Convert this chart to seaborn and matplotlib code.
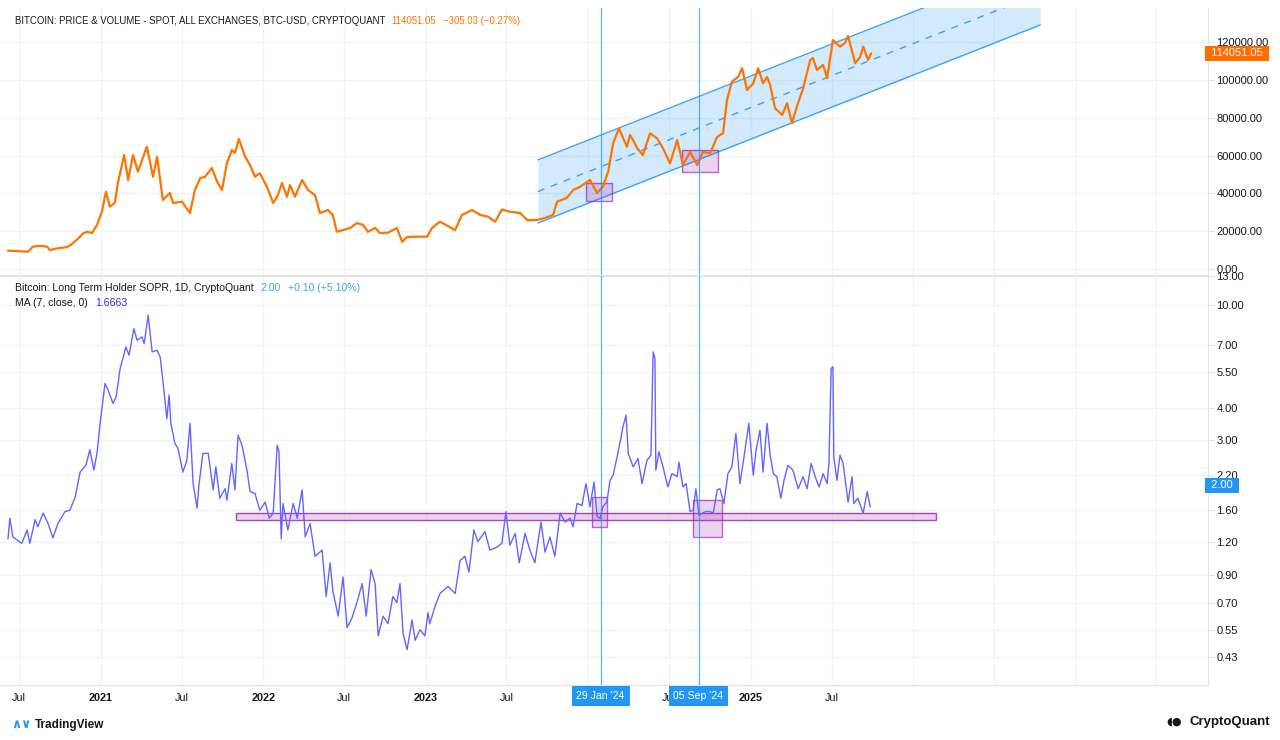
import numpy as np
import pandas as pd
import matplotlib
matplotlib.use("Agg")
import matplotlib.pyplot as plt
import matplotlib.dates as mdates
import matplotlib.transforms as mtransforms
from matplotlib.patches import Rectangle
import seaborn as sns

# ---------------- data ----------------
EPOCH = "2021-01-01"  # day offsets below are days since this date

price_days = [-209, -164, -153, -137, -121, -115, -97, -76, -65, -47, -40, -31, -20, -9,
              2, 11, 20, 31, 38, 52, 61, 72, 83, 94, 103, 117, 126, 137, 139,
              155, 162, 182, 200, 211, 223, 234, 249, 261, 272, 283, 294, 301,
              310, 324, 335, 346, 357, 373, 387, 396, 407, 418, 425, 436, 452,
              465, 481, 492, 510, 521, 530, 544, 560, 575, 589, 600, 616, 627,
              645, 665, 677, 688, 710, 733, 744, 755, 762, 796, 811, 834, 852,
              870, 886, 901, 919, 942, 958, 980, 998, 1016, 1025, 1047, 1061,
              1077, 1099, 1115, 1128, 1140, 1151, 1164, 1182, 1189, 1196, 1205, 1218,
              1234, 1250, 1263, 1279, 1295, 1308, 1324, 1340, 1353, 1369, 1385,
              1398, 1407, 1418, 1432, 1441, 1452, 1466, 1477, 1488, 1497, 1504, 1515, 1531,
              1542, 1553, 1564, 1578, 1594, 1600, 1609, 1623, 1632, 1645, 1661, 1672, 1679,
              1695, 1706, 1713, 1724, 1731]
price_values = [9700, 9150, 11800, 12300, 11800, 10000, 10950, 11600, 13200, 17100, 18900,
                19700, 19000, 23300,
                30300, 40900, 33000, 34900, 45500, 60300, 47100, 60300, 51500, 58700,
                64700, 48800, 59400, 40200, 36500, 40200, 34900, 35600, 29600, 41800,
                48100, 48800, 53400, 46200, 41800, 56100, 62900, 61400, 68800, 59400,
                55000, 48800, 50600, 43500, 34900, 38200, 45500, 38200, 44400, 38200,
                47100, 41800, 39100, 29600, 31200, 28600, 19700, 20600, 21700, 24300,
                23300, 19700, 21700, 19000, 19200, 21700, 14400, 16900, 17100, 17100,
                21700, 23800, 25000, 20600, 28600, 31200, 28600, 27700, 25000, 31500,
                30300, 29600, 25900, 25900, 27000, 28600, 35600, 37600, 41800, 43500,
                47100, 40200, 43500, 51500, 66500, 74400, 64700, 70900, 68200, 63900, 60300,
                71800, 69100, 63900, 55900, 68200, 55000, 62000, 55000, 62000, 61200,
                70000, 71800, 89400, 99100, 101600, 106200, 94700, 98200, 106200, 98200,
                101600, 97300, 85000, 81500, 87700, 77100, 85900, 95600, 110600, 111600,
                105300, 107900, 100900, 121100, 117600, 119600, 123300, 108800, 112100,
                117600, 110600, 114051.05]
price_last = 114051.05

sopr_days = [-209, -205, -198, -178, -166, -160, -148, -142, -130, -119, -108, -97,
             -81, -70, -58, -47, -34, -25, -16, -9, -2, 9, 16, 27, 34, 43, 56, 63,
             74, 81, 92, 97, 106, 115, 126, 133, 139, 148, 153, 157, 166, 173, 184,
             193, 200, 207, 216, 220, 229, 241, 252, 258, 267, 279, 283, 294, 301,
             308, 317, 328, 335, 346, 357, 369, 378, 387, 396, 400, 405, 409, 420,
             432, 441, 452, 459, 470, 481, 497, 506, 515, 521, 533, 544, 553, 564,
             575, 587, 596, 607, 616, 623, 634, 645, 656, 665, 672, 679, 688, 699,
             706, 717, 728, 735, 739, 751, 762, 780, 796, 807, 818, 827, 838, 847,
             863, 874, 890, 901, 910, 919, 931, 940, 953, 964, 975, 989, 998, 1009,
             1020, 1032, 1043, 1054, 1061, 1070, 1081, 1090, 1099, 1108, 1115, 1122,
             1128, 1137, 1144, 1151, 1160, 1169, 1173, 1180, 1185, 1196, 1207, 1216,
             1227, 1236, 1241, 1245, 1247, 1254, 1263, 1274, 1283, 1295, 1299, 1308,
             1315, 1324, 1331, 1337, 1344, 1358, 1369, 1376, 1385, 1391, 1400, 1409,
             1418, 1427, 1436, 1443, 1456, 1466, 1472, 1481, 1488, 1497, 1504, 1511,
             1519, 1528, 1535, 1544, 1555, 1567, 1578, 1587, 1596, 1605, 1614, 1623,
             1632, 1636, 1641, 1645, 1647, 1654, 1661, 1668, 1679, 1688, 1692, 1701,
             1713, 1722, 1729]
sopr_values = [1.24, 1.49, 1.26, 1.19, 1.34, 1.19, 1.47, 1.38, 1.56, 1.42, 1.25, 1.42,
               1.58, 1.60, 1.80, 2.25, 2.39, 2.75, 2.29, 2.66, 3.48, 4.97, 4.68, 4.16,
               4.41, 5.68, 6.89, 6.40, 8.12, 7.32, 7.54, 7.10, 9.15, 6.59, 6.69, 6.30,
               5.12, 3.63, 4.48, 3.48, 2.91, 2.78, 2.25, 2.50, 3.48, 2.03, 1.63, 2.00,
               2.66, 2.66, 1.92, 2.36, 1.78, 1.94, 1.75, 2.43, 1.92, 3.13, 2.86, 2.29,
               1.89, 1.86, 1.60, 1.72, 1.49, 1.56, 2.86, 2.70, 1.24, 1.70, 1.34, 1.70,
               1.49, 1.92, 1.26, 1.42, 1.06, 1.12, 0.74, 1.00, 0.78, 0.62, 0.88, 0.56,
               0.61, 0.70, 0.83, 0.62, 0.94, 0.83, 0.52, 0.62, 0.58, 0.74, 0.70, 0.83,
               0.53, 0.46, 0.60, 0.50, 0.55, 0.52, 0.64, 0.58, 0.68, 0.76, 0.81, 0.76,
               1.02, 1.06, 0.92, 1.34, 1.21, 1.32, 1.12, 1.15, 1.19, 1.58, 1.17, 1.30,
               1.00, 1.30, 1.12, 1.00, 1.44, 1.10, 1.26, 1.06, 1.56, 1.44, 1.49, 1.38,
               1.70, 1.67, 2.03, 1.65, 2.06, 1.51, 1.49, 1.65, 1.72, 2.09, 2.19, 2.58,
               3.08, 3.37, 3.74, 2.66, 2.36, 2.54, 2.03, 2.50, 2.62, 6.59, 6.21, 2.29,
               2.70, 2.36, 1.97, 2.22, 2.16, 2.46, 1.97, 2.03, 1.58, 1.60, 1.94, 1.53,
               1.58, 1.58, 1.56, 1.92, 1.94, 1.70, 2.22, 2.36, 3.18, 2.03, 2.43, 3.48,
               2.19, 2.72, 3.27, 2.25, 3.48, 2.62, 2.22, 2.16, 1.78, 2.09, 2.39, 2.29,
               1.94, 2.16, 1.94, 2.43, 2.16, 1.97, 2.22, 2.03, 2.43, 5.68, 5.77, 2.58,
               2.09, 2.62, 2.43, 1.72, 2.16, 1.70, 1.78, 1.56, 1.89, 1.65]
sopr_last = 2.00
sopr_ma_last = 1.6663

# parallel channel on price panel
channel_dates = ["2023-09-10", "2026-10-13"]
channel_lower = [24300, 129100]
channel_width = 33400

# highlighted boxes (start, end, low, high)
price_box_start = ["2023-12-28", "2024-07-30"]
price_box_end = ["2024-02-24", "2024-10-19"]
price_box_low = [36000, 51300]
price_box_high = [45500, 63000]

sopr_box_start = ["2024-01-10", "2024-08-24"]
sopr_box_end = ["2024-02-12", "2024-10-28"]
sopr_box_low = [1.38, 1.26]
sopr_box_high = [1.80, 1.75]

band_dates = ["2021-10-31", "2026-02-21"]
band_low, band_high = 1.46, 1.56

marker_dates = ["2024-01-29", "2024-09-05"]
marker_labels = ["29 Jan '24", "05 Sep '24"]

price_ticks = [0, 20000, 40000, 60000, 80000, 100000, 120000]
sopr_ticks = [0.43, 0.55, 0.70, 0.90, 1.20, 1.60, 2.20, 3.00, 4.00, 5.50, 7.00, 10.00, 13.00]

x_tick_dates = ["2020-07-01", "2021-01-01", "2021-07-01", "2022-01-01", "2022-07-01",
                "2023-01-01", "2023-07-01", "2024-01-01", "2024-07-01", "2025-01-01",
                "2025-07-01", "2026-01-01", "2026-07-01", "2027-01-01", "2027-07-01"]
x_tick_labels = ["Jul", "2021", "Jul", "2022", "Jul", "2023", "Jul", "", "Jul", "2025",
                 "Jul", "", "", "", ""]

# ---------------- style ----------------
sns.set_style("white")
plt.rcParams['font.family'] = ['Liberation Sans', 'DejaVu Sans']
TXT = '#131722'
GRID = '#f0f3fa'
BORDER = '#e0e3eb'
ORANGE = '#ff7400'
BLUE = '#2196f3'
PURPLE = '#9c27b0'
SOPR_C = '#6464ff'
TICK_FS = 8.0

W, H = 1280, 740
fig = plt.figure(figsize=(W / 100, H / 100), dpi=100)
fig.patch.set_facecolor('white')

def px_axes(left, top, right, bottom):
    return fig.add_axes([left / W, 1 - bottom / H, (right - left) / W, (bottom - top) / H])

ax1 = px_axes(0, 8, 1208, 275)
ax2 = px_axes(0, 276, 1208, 685)

epoch = pd.Timestamp(EPOCH)
price_df = pd.DataFrame({"date": epoch + pd.to_timedelta(price_days, unit="D"),
                         "price": price_values}).sort_values("date")
sopr_df = pd.DataFrame({"date": epoch + pd.to_timedelta(sopr_days, unit="D"),
                        "sopr": sopr_values}).sort_values("date")

xlim = (pd.Timestamp("2020-05-19"), pd.Timestamp("2027-10-25"))
xt = pd.to_datetime(x_tick_dates)

# ----- price panel -----
cd = pd.to_datetime(channel_dates)
lo = np.array(channel_lower, dtype=float)
ax1.fill_between(cd, lo, lo + channel_width, color=BLUE, alpha=0.2, lw=0, zorder=1)
ax1.plot(cd, lo, color=BLUE, lw=1.0, alpha=0.85, zorder=2)
ax1.plot(cd, lo + channel_width, color=BLUE, lw=1.0, alpha=0.85, zorder=2)
ax1.plot(cd, lo + channel_width / 2, color=BLUE, lw=1.0, alpha=0.85, ls=(0, (5, 5)), zorder=2)

for s, e, l, h in zip(price_box_start, price_box_end, price_box_low, price_box_high):
    s0, e0 = mdates.date2num(pd.Timestamp(s)), mdates.date2num(pd.Timestamp(e))
    ax1.add_patch(Rectangle((s0, l), e0 - s0, h - l, facecolor=PURPLE, alpha=0.2,
                            edgecolor='none', zorder=2))
    ax1.add_patch(Rectangle((s0, l), e0 - s0, h - l, facecolor='none',
                            edgecolor=PURPLE, lw=1.0, alpha=0.7, zorder=2))

sns.lineplot(data=price_df, x="date", y="price", ax=ax1, color=ORANGE, lw=1.6, zorder=3,
             sort=False)
ax1.set_xlim(*xlim)
ax1.set_ylim(-3174, 138070)

# ----- SOPR panel -----
bd = pd.to_datetime(band_dates)
b0, b1 = mdates.date2num(bd[0]), mdates.date2num(bd[1])
ax2.add_patch(Rectangle((b0, band_low), b1 - b0, band_high - band_low, facecolor=PURPLE,
                        alpha=0.2, edgecolor='none', zorder=1))
ax2.add_patch(Rectangle((b0, band_low), b1 - b0, band_high - band_low, facecolor='none',
                        edgecolor=PURPLE, lw=1.0, alpha=0.85, zorder=2))
for s, e, l, h in zip(sopr_box_start, sopr_box_end, sopr_box_low, sopr_box_high):
    s0, e0 = mdates.date2num(pd.Timestamp(s)), mdates.date2num(pd.Timestamp(e))
    ax2.add_patch(Rectangle((s0, l), e0 - s0, h - l, facecolor=PURPLE, alpha=0.2,
                            edgecolor='none', zorder=1))
    ax2.add_patch(Rectangle((s0, l), e0 - s0, h - l, facecolor='none',
                            edgecolor=PURPLE, lw=1.0, alpha=0.7, zorder=2))

sns.lineplot(data=sopr_df, x="date", y="sopr", ax=ax2, color=SOPR_C, lw=1.0, zorder=3,
             sort=False)
ax2.set_yscale('log')
ax2.set_xlim(*xlim)
ax2.set_ylim(0.3352, 12.96)

for d in pd.to_datetime(marker_dates):
    for ax in (ax1, ax2):
        ax.axvline(d, color=BLUE, lw=0.9, alpha=0.75, zorder=4)

# ----- axes styling -----
for ax in (ax1, ax2):
    ax.set_xlabel("")
    ax.set_ylabel("")
    ax.set_facecolor('white')
    ax.yaxis.tick_right()
    ax.set_xticks(xt)
    ax.grid(True, color=GRID, lw=1.0, zorder=0)
    ax.set_axisbelow(True)
    for sp in ('left', 'top', 'bottom'):
        ax.spines[sp].set_visible(False)
    ax.spines['right'].set_color(BORDER)
    ax.tick_params(axis='y', which='both', length=4, color=BORDER, labelsize=TICK_FS,
                   labelcolor=TXT, pad=2)

ax1.set_yticks(price_ticks)
ax1.set_yticklabels([f"{v:.2f}" for v in price_ticks])
ax1.tick_params(axis='x', length=0, labelbottom=False)

ax2.set_yticks(sopr_ticks)
ax2.set_yticklabels([f"{v:.2f}" for v in sopr_ticks])
ax2.yaxis.set_minor_locator(matplotlib.ticker.NullLocator())
ax2.spines['bottom'].set_visible(True)
ax2.spines['bottom'].set_color(BORDER)
ax2.spines['top'].set_visible(True)
ax2.spines['top'].set_color(BORDER)
ax2.spines['top'].set_linewidth(1.5)
ax2.set_xticklabels(x_tick_labels)
ax2.tick_params(axis='x', length=3, color=BORDER, labelsize=7.8, labelcolor=TXT, pad=3)
for lab in ax2.get_xticklabels():
    if lab.get_text().isdigit():
        lab.set_fontweight('bold')

# last-value labels
tr1 = mtransforms.blended_transform_factory(ax1.transAxes, ax1.transData)
ax1.text(1.0, price_last, f" {price_last:.2f} ", transform=tr1, ha='left', va='center',
         fontsize=TICK_FS, color='white', clip_on=False, zorder=10,
         bbox=dict(boxstyle='square,pad=0.25', fc='#ff6d00', ec='none'))
tr2 = mtransforms.blended_transform_factory(ax2.transAxes, ax2.transData)
ax2.text(1.0, sopr_last, f" {sopr_last:.2f} ", transform=tr2, ha='left', va='center',
         fontsize=TICK_FS, color='white', clip_on=False, zorder=10,
         bbox=dict(boxstyle='square,pad=0.25', fc=BLUE, ec='none'))

# date labels under the vertical markers
trx = mtransforms.blended_transform_factory(ax2.transData, ax2.transAxes)
for d, lab in zip(pd.to_datetime(marker_dates), marker_labels):
    ax2.text(d, -0.027, lab, transform=trx, ha='center', va='center', fontsize=7.6,
             color='white', clip_on=False, zorder=10,
             bbox=dict(boxstyle='square,pad=0.45', fc=BLUE, ec='none'))

# ----- header legends -----
fig.canvas.draw()
rend = fig.canvas.get_renderer()

def chain(x_px, y_px, parts, size):
    x = x_px
    for s, color, gap in parts:
        t = fig.text(x / W, 1 - y_px / H, s, color=color, fontsize=size,
                     ha='left', va='center')
        bb = t.get_window_extent(renderer=rend)
        x = bb.x1 + gap

chain(15, 21, [("BITCOIN: PRICE & VOLUME - SPOT, ALL EXCHANGES, BTC-USD, CRYPTOQUANT", TXT, 6),
               (f"{price_last:.2f}", ORANGE, 7),
               ("\u2212305.03 (\u22120.27%)", ORANGE, 0)], 6.9)
chain(15, 288, [("Bitcoin: Long Term Holder SOPR, 1D, CryptoQuant", TXT, 7),
                (f"{sopr_last:.2f}", '#42a5f5', 7),
                ("+0.10 (+5.10%)", '#42a5f5', 0)], 7.6)
chain(15, 303, [("MA (7, close, 0)", TXT, 7),
                (f"{sopr_ma_last:.4f}", '#2b2bff', 0)], 7.6)

# ----- footer logos -----
fig.text(35 / W, 1 - 725 / H, "TradingView", fontsize=8.5, fontweight='bold', color=TXT,
         ha='left', va='center')
fig.text(11 / W, 1 - 724 / H, "\u2227\u2228", fontsize=9, fontweight='bold', color=BLUE,
         ha='left', va='center', family=['DejaVu Sans'])
fig.text(1270 / W, 1 - 722 / H, "CryptoQuant", fontsize=9.5, fontweight='bold', color=TXT,
         ha='right', va='center')
fig.text(1166 / W, 1 - 722 / H, "\u25d6\u25cf", fontsize=8, color=TXT,
         ha='left', va='center', family=['DejaVu Sans'])

fig.savefig("out.png", dpi=100, facecolor='white')
